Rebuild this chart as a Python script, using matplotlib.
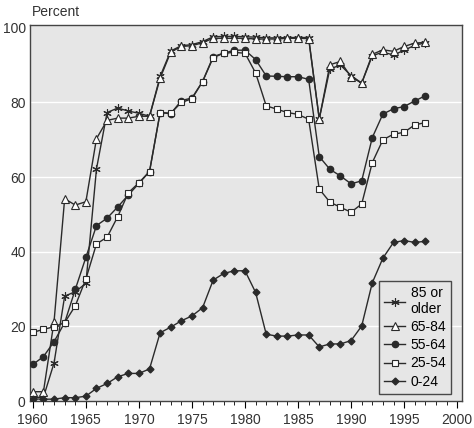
import numpy as np
import matplotlib
matplotlib.use("Agg")
from matplotlib import pyplot as plt

years = list(range(1960, 1998))

age_85_plus = [1, 1, 10.2, 28.1, 29.3, 31.5, 62.2, 77.3, 78.5, 77.7, 77.1, 76.3,
               87.0, 93.8, 95.2, 95.5, 96.3, 97.6, 97.7, 97.7, 97.6, 97.5, 97.3, 97.3,
               97.4, 97.4, 97.4, 75.6, 89.0, 90.0, 87.2, 85.2,
               92.5, 93.5, 92.7, 94.0, 95.3, 96.0]
age_65_84 = [2.5, 2.5, 21.3, 54.2, 52.5, 53.4, 70.3, 75.2, 75.8, 75.8, 76.3, 76.3,
             86.5, 93.5, 95.0, 95.2, 96.0, 97.2, 97.2, 97.2, 97.2, 97.0, 97.0, 97.0,
             97.2, 97.2, 97.1, 75.6, 90.1, 91.0, 86.8, 85.2,
             92.9, 94.1, 93.7, 95.0, 95.9, 96.1]
age_55_64 = [9.8, 11.9, 15.9, 21.0, 29.9, 38.5, 47.0, 49.0, 52.0, 55.2, 58.3, 61.5,
             77.3, 77.0, 80.5, 81.2, 85.6, 92.3, 93.2, 94.0, 94.0, 91.5, 87.1, 87.0,
             86.9, 86.9, 86.2, 65.5, 62.1, 60.3, 58.2, 59.0,
             70.6, 76.9, 78.3, 78.9, 80.4, 81.8]
age_25_54 = [18.4, 19.2, 19.9, 21.0, 25.5, 32.7, 42.1, 43.9, 49.4, 55.8, 58.5, 61.5,
             77.3, 77.1, 80.0, 81.0, 85.6, 92.0, 93.2, 93.4, 93.2, 87.9, 79.1, 78.2,
             77.3, 76.8, 75.5, 56.8, 53.3, 51.9, 50.6, 52.8,
             63.9, 70.0, 71.5, 72.0, 74.0, 74.6]
age_0_24 = [0.6, 0.5, 0.5, 0.9, 0.9, 1.3, 3.4, 4.7, 6.5, 7.4, 7.4, 8.6,
            18.3, 19.8, 21.5, 22.8, 25.0, 32.4, 34.2, 34.9, 34.9, 29.1, 17.9, 17.4,
            17.4, 17.7, 17.7, 14.5, 15.3, 15.3, 16.2, 20.1,
            31.7, 38.3, 42.5, 43.0, 42.5, 42.8]

labels = ["85 or\nolder", "65-84", "55-64", "25-54", "0-24"]

plt.rcParams['font.family'] = ['Liberation Sans', 'DejaVu Sans']
plt.rcParams['font.size'] = 10

fig = plt.figure(figsize=(4.74, 4.28), dpi=100)
ax = fig.add_axes([0.063, 0.063, 0.912, 0.879])
ax.set_facecolor('#e6e6e6')

lc = '#2a2a2a'
ax.plot(years, age_85_plus, color=lc, lw=1.0, marker=(6, 2, 0), ms=6, mew=0.8,
        label=labels[0], zorder=3)
ax.plot(years, age_65_84, color=lc, lw=1.0, marker='^', ms=5.5, mfc='white',
        mec=lc, mew=0.8, label=labels[1], zorder=3)
ax.plot(years, age_55_64, color=lc, lw=1.0, marker='o', ms=4.5, mfc=lc,
        label=labels[2], zorder=3)
ax.plot(years, age_25_54, color=lc, lw=1.0, marker='s', ms=4.5, mfc='white',
        mec=lc, mew=0.8, label=labels[3], zorder=3)
ax.plot(years, age_0_24, color=lc, lw=1.0, marker='D', ms=3.5, mfc=lc,
        label=labels[4], zorder=3)

ax.set_xlim(1959.72, 2000.47)
ax.set_ylim(0, 100.8)
ax.set_xticks(range(1960, 2001, 5))
ax.set_xticks(range(1960, 2001), minor=True)
ax.set_yticks([0, 20, 40, 60, 80, 100])
for v in [20, 40, 60, 80]:
    ax.axhline(v, color='white', lw=1.0, zorder=1)
ax.tick_params(axis='y', length=0, pad=3, labelcolor='#333333')
ax.tick_params(axis='x', which='major', length=5, direction='out', labelcolor='#333333')
ax.tick_params(axis='x', which='minor', length=3, direction='out')
for s in ax.spines.values():
    s.set_color('#444444')
    s.set_linewidth(1.0)

fig.text(0.068, 0.955, "Percent", ha='left', va='bottom', color='#333333')

leg = ax.legend(loc='lower right', bbox_to_anchor=(0.975, 0.02), frameon=True,
                fancybox=False, edgecolor='#222222', facecolor='#e6e6e6',
                handlelength=1.5, borderpad=0.35, labelspacing=0.3,
                handletextpad=0.4, borderaxespad=0.0)
leg.get_frame().set_linewidth(1.0)

fig.savefig('out.png', dpi=100)
